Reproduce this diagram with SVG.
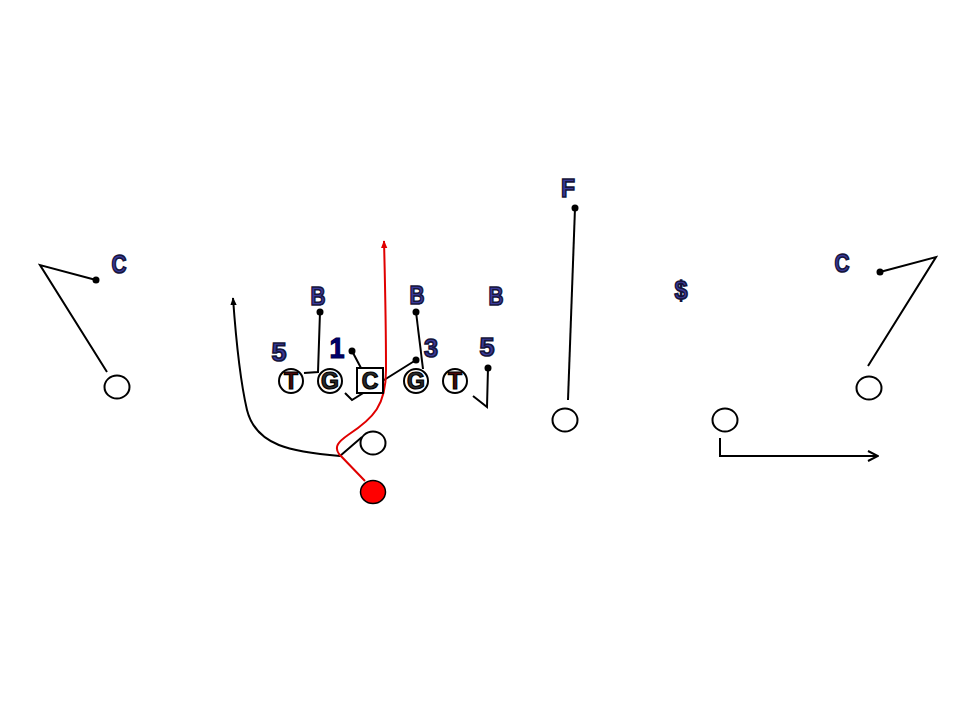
<svg xmlns="http://www.w3.org/2000/svg" width="960" height="720" viewBox="0 0 960 720">
<defs>
<style>
.pl{fill:#fff;stroke:#000;stroke-width:2}
.rt{fill:none;stroke:#000;stroke-width:2}
.red{fill:none;stroke:#e00000;stroke-width:2}
.dot{fill:#000}
.def{font-family:"Liberation Sans",Arial,sans-serif;font-weight:bold;font-size:26px;fill:#3a3a9a;stroke:#14143c;stroke-width:1.6;text-anchor:middle}
.one{font-family:"Liberation Sans",Arial,sans-serif;font-weight:bold;font-size:29px;fill:#000070;stroke:#000050;stroke-width:1.2;text-anchor:middle}
.ol{font-family:"Liberation Sans",Arial,sans-serif;font-weight:bold;font-size:23px;fill:#4a0a0a;stroke:#000;stroke-width:1.2;text-anchor:middle}
.og{font-family:"Liberation Sans",Arial,sans-serif;font-weight:bold;font-size:23px;fill:#2a2a2a;stroke:#000;stroke-width:1.2;text-anchor:middle}
</style>
<marker id="ah" viewBox="0 0 10 10" refX="9" refY="5" markerWidth="8" markerHeight="8" markerUnits="userSpaceOnUse" orient="auto"><path d="M0,1 L10,5 L0,9 z" fill="#000"/></marker>
<marker id="ahr" viewBox="0 0 10 10" refX="9" refY="5" markerWidth="8" markerHeight="8" markerUnits="userSpaceOnUse" orient="auto"><path d="M0,1 L10,5 L0,9 z" fill="#e00000"/></marker>
<marker id="open" viewBox="0 0 12 12" refX="11" refY="6" markerWidth="12" markerHeight="12" markerUnits="userSpaceOnUse" orient="auto"><path d="M1,1 L11,6 L1,11" fill="none" stroke="#000" stroke-width="2"/></marker>
</defs>
<rect width="960" height="720" fill="#fff"/>

<g id="connectors">
<polyline class="rt" points="107,372 40,265 96,280"/>
<polyline class="rt" points="868,366 936,257 880,272"/>
<polyline class="rt" points="568,400 575,208"/>
<polyline class="rt" points="720,438 720,456 878,456" marker-end="url(#open)"/>
<polyline class="rt" points="304,373 318,372 320,312"/>
<polyline class="rt" points="361,368 352,351"/>
<polyline class="rt" points="345,393 352,400 416,360"/>
<polyline class="rt" points="423,369 416,312"/>
<polyline class="rt" points="473,396 487,407 488,368"/>
<path class="rt" d="M362,437 L340,456 C292,452 256,446 247,410 C240,380 236,340 233,298" marker-end="url(#ah)"/>
<path class="red" d="M365,481 L339,454 C334,447 338,442 348,435 C374,418 386,405 386,370 C386,320 385,280 384,241" marker-end="url(#ahr)"/>
<circle class="dot" cx="96" cy="280" r="3.5"/>
<circle class="dot" cx="880" cy="272" r="3.5"/>
<circle class="dot" cx="575" cy="208" r="3.5"/>
<circle class="dot" cx="320" cy="312" r="3.5"/>
<circle class="dot" cx="352" cy="351" r="3.5"/>
<circle class="dot" cx="416" cy="360" r="3.5"/>
<circle class="dot" cx="416" cy="312" r="3.5"/>
<circle class="dot" cx="488" cy="368" r="3.5"/>
</g>

<g id="wr-left"><ellipse class="pl" cx="117" cy="387" rx="12.5" ry="11.5"/></g>
<g id="wr-right"><ellipse class="pl" cx="869" cy="388" rx="12.5" ry="11.5"/></g>
<g id="te"><ellipse class="pl" cx="565" cy="420" rx="12.5" ry="11.5"/></g>
<g id="slot"><ellipse class="pl" cx="725" cy="420" rx="12.5" ry="11.5"/></g>
<g id="rb"><ellipse class="pl" cx="373" cy="443" rx="12.5" ry="11.5"/></g>
<g id="qb"><ellipse cx="373" cy="492" rx="12.5" ry="11.5" fill="#ff0000" stroke="#000" stroke-width="1.5"/></g>

<g id="lt"><circle class="pl" cx="291" cy="381" r="12"/><text class="ol" x="291" y="389">T</text></g>
<g id="lg"><circle class="pl" cx="330" cy="381" r="12"/><text class="og" x="330" y="389">G</text></g>
<g id="c"><rect class="pl" x="357" y="368" width="26" height="25"/><text class="og" x="370" y="389">C</text></g>
<g id="rg"><circle class="pl" cx="416" cy="381" r="12"/><text class="og" x="416" y="389">G</text></g>
<g id="rt"><circle class="pl" cx="455" cy="381" r="12"/><text class="ol" x="455" y="389">T</text></g>

<g id="def-c-left"><text class="def" x="119" y="273" textLength="15" lengthAdjust="spacingAndGlyphs">C</text></g>
<g id="def-c-right"><text class="def" x="842" y="272" textLength="15" lengthAdjust="spacingAndGlyphs">C</text></g>
<g id="def-f"><text class="def" x="568" y="197" textLength="14" lengthAdjust="spacingAndGlyphs">F</text></g>
<g id="def-s"><text class="def" x="681" y="299" textLength="13" lengthAdjust="spacingAndGlyphs">$</text></g>
<g id="def-b1"><text class="def" x="318" y="305" textLength="15" lengthAdjust="spacingAndGlyphs">B</text></g>
<g id="def-b2"><text class="def" x="417" y="304" textLength="15" lengthAdjust="spacingAndGlyphs">B</text></g>
<g id="def-b3"><text class="def" x="496" y="305" textLength="15" lengthAdjust="spacingAndGlyphs">B</text></g>
<g id="def-5l"><text class="def" x="279" y="361" textLength="15" lengthAdjust="spacingAndGlyphs">5</text></g>
<g id="def-1"><text class="one" x="337" y="358" textLength="15" lengthAdjust="spacingAndGlyphs">1</text></g>
<g id="def-3"><text class="def" x="431" y="357" textLength="14" lengthAdjust="spacingAndGlyphs">3</text></g>
<g id="def-5r"><text class="def" x="487" y="356" textLength="15" lengthAdjust="spacingAndGlyphs">5</text></g>
</svg>
